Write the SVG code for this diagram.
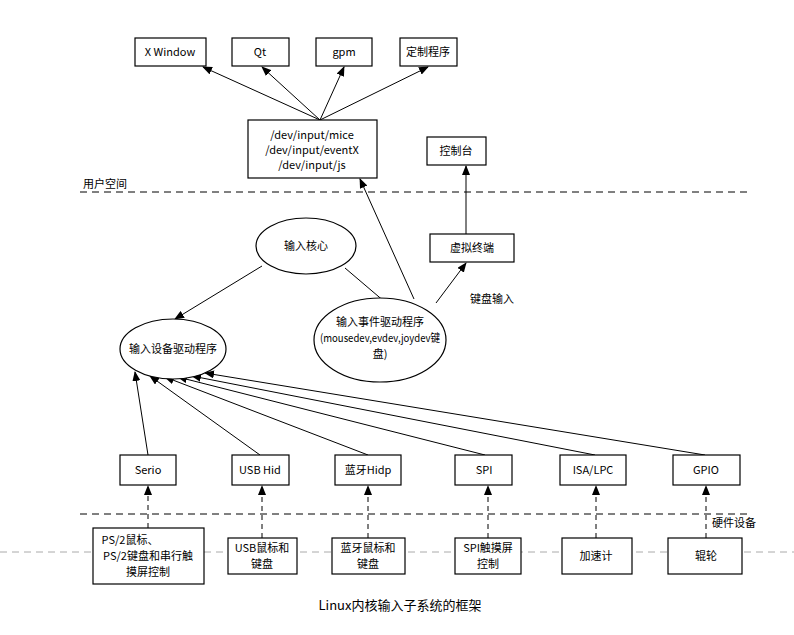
<svg xmlns="http://www.w3.org/2000/svg" width="794" height="635" viewBox="0 0 794 635">
<defs><marker id="a" markerWidth="10" markerHeight="8" refX="9" refY="4" orient="auto" markerUnits="userSpaceOnUse"><path d="M0,0L10,4L0,8z" fill="#000"/></marker></defs>
<style>
rect,ellipse{fill:#fff;stroke:#000;stroke-width:1.2}
text{font-family:"Noto Sans CJK SC","Liberation Sans",sans-serif;font-size:11px;text-anchor:middle;fill:#000}
.c line{stroke:#000;stroke-width:1;marker-end:url(#a)}
.d{stroke-dasharray:5,4}
</style>
<rect width="794" height="635" fill="#fff" style="stroke:none"/>
<line x1="0" y1="552" x2="794" y2="552" stroke="#aaa" stroke-dasharray="7,5"/>
<line x1="80" y1="192" x2="750" y2="192" stroke="#000" stroke-dasharray="7,5"/>
<line x1="80" y1="514" x2="750" y2="514" stroke="#000" stroke-dasharray="7,5"/>
<text x="83" y="188" style="text-anchor:start">用户空间</text>
<text x="712" y="527" style="text-anchor:start">硬件设备</text>
<text x="470" y="303" style="text-anchor:start">键盘输入</text>
<g class="c">
<line x1="320" y1="120" x2="203" y2="67"/><line x1="320" y1="120" x2="262" y2="67"/><line x1="320" y1="120" x2="344" y2="67"/><line x1="320" y1="120" x2="428" y2="67"/>
<line x1="414" y1="299" x2="360" y2="179"/><line x1="436" y1="303" x2="466" y2="263"/><line x1="466" y1="234" x2="466" y2="166"/>
<line x1="262" y1="266" x2="175" y2="319"/><line x1="345" y1="268" x2="392" y2="308"/>
<line x1="148" y1="455" x2="135" y2="372"/><line x1="260" y1="455" x2="150" y2="376"/><line x1="368" y1="455" x2="165" y2="377"/><line x1="485" y1="455" x2="178" y2="377"/><line x1="595" y1="455" x2="192" y2="376"/><line x1="705" y1="455" x2="205" y2="373"/>
<line class="d" x1="148" y1="528" x2="148" y2="486"/><line class="d" x1="262" y1="538" x2="262" y2="486"/><line class="d" x1="368" y1="538" x2="368" y2="486"/><line class="d" x1="488" y1="538" x2="488" y2="486"/><line class="d" x1="596" y1="538" x2="596" y2="486"/><line class="d" x1="706" y1="538" x2="706" y2="486"/>
</g>
<g id="xw"><rect x="135" y="38" width="71" height="28"/><text x="170" y="56">X Window</text></g>
<g id="qt"><rect x="232" y="38" width="57" height="28"/><text x="260" y="56">Qt</text></g>
<g id="gpm"><rect x="316" y="38" width="56" height="28"/><text x="344" y="56">gpm</text></g>
<g id="dz"><rect x="400" y="38" width="57" height="28"/><text x="428" y="56">定制程序</text></g>
<g id="dev"><rect x="248" y="120" width="129" height="58"/><text x="312" y="139">/dev/input/mice</text><text x="312" y="154">/dev/input/eventX</text><text x="312" y="169">/dev/input/js</text></g>
<g id="kzt"><rect x="427" y="137" width="59" height="28"/><text x="456" y="155">控制台</text></g>
<g id="xn"><rect x="430" y="234" width="84" height="28"/><text x="472" y="252">虚拟终端</text></g>
<g id="core"><ellipse cx="306" cy="246" rx="50" ry="28"/><text x="306" y="250">输入核心</text></g>
<g id="ev"><ellipse cx="380" cy="340" rx="66" ry="42"/><text x="380" y="326">输入事件驱动程序</text><text x="380" y="342" textLength="120" lengthAdjust="spacingAndGlyphs">(mousedev,evdev,joydev键</text><text x="380" y="358">盘)</text></g>
<g id="drv"><ellipse cx="173" cy="349" rx="53" ry="30"/><text x="173" y="353">输入设备驱动程序</text></g>
<g id="serio"><rect x="120" y="455" width="56" height="30"/><text x="148" y="474">Serio</text></g>
<g id="usb"><rect x="232" y="455" width="57" height="30"/><text x="260" y="474">USB Hid</text></g>
<g id="bt"><rect x="335" y="455" width="66" height="30"/><text x="368" y="474">蓝牙Hidp</text></g>
<g id="spi"><rect x="455" y="455" width="57" height="30"/><text x="484" y="474">SPI</text></g>
<g id="isa"><rect x="560" y="455" width="66" height="30"/><text x="593" y="474">ISA/LPC</text></g>
<g id="gpio"><rect x="673" y="455" width="67" height="30"/><text x="706" y="474">GPIO</text></g>
<g id="h1"><rect x="93" y="528" width="111" height="56"/><text x="130" y="544">PS/2鼠标、</text><text x="148" y="560">PS/2键盘和串行触</text><text x="148" y="576">摸屏控制</text></g>
<g id="h2"><rect x="228" y="538" width="69" height="36"/><text x="262" y="552">USB鼠标和</text><text x="262" y="568">键盘</text></g>
<g id="h3"><rect x="332" y="538" width="73" height="36"/><text x="368" y="552">蓝牙鼠标和</text><text x="368" y="568">键盘</text></g>
<g id="h4"><rect x="455" y="538" width="66" height="36"/><text x="488" y="552">SPI触摸屏</text><text x="488" y="568">控制</text></g>
<g id="h5"><rect x="562" y="538" width="70" height="36"/><text x="596" y="560">加速计</text></g>
<g id="h6"><rect x="668" y="538" width="74" height="36"/><text x="706" y="560">辊轮</text></g>
<text x="400" y="610" style="font-size:13px">Linux内核输入子系统的框架</text>
</svg>
